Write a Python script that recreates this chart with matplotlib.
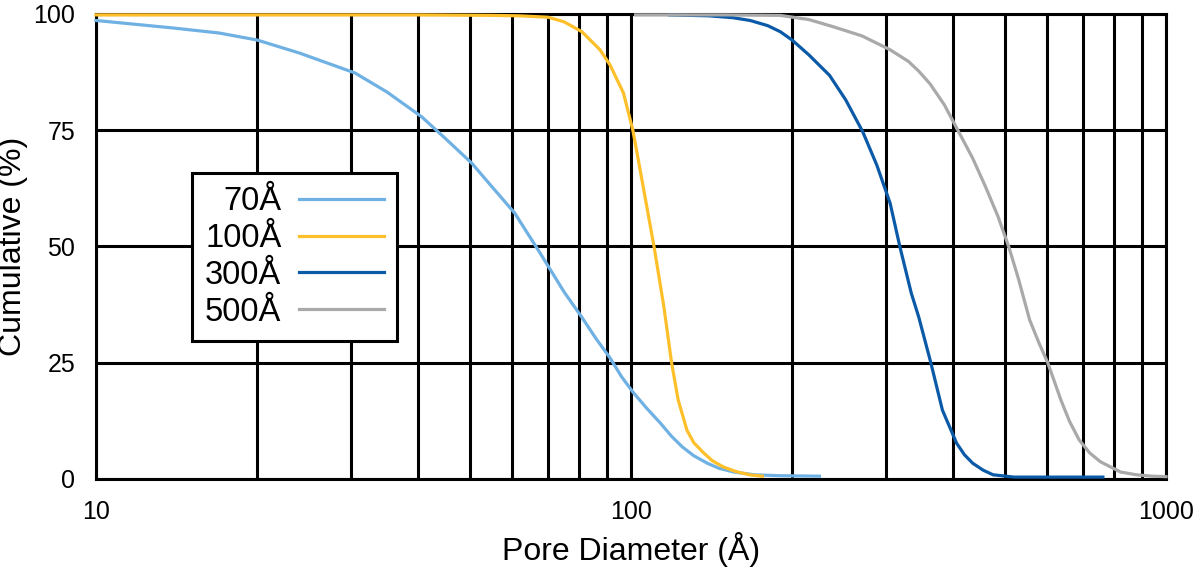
#!/usr/bin/python3
# Cumulative pore size distribution for four pore sizes
import matplotlib
matplotlib.use("Agg")
import matplotlib.pyplot as plt
from matplotlib.ticker import FixedLocator, NullFormatter

plt.rcParams['font.family'] = ['Liberation Sans', 'DejaVu Sans']

# values
labels = ["70Å", "100Å", "300Å", "500Å"]
colors = ["#70b1e4", "#fdc02a", "#0b5aa8", "#a9a9a9"]

x_70 = [10, 13.9, 17, 20, 24, 30.5, 35, 40.6, 45, 50.4, 55, 60.6, 67.6, 75, 80.9, 86, 91.4,
        96, 100.8, 107, 113.5, 119, 124.7, 131, 138.8, 146, 155.5, 170, 190, 225]
y_70 = [98.6, 97, 95.9, 94.4, 91.6, 87.3, 83.2, 77.9, 73.2, 67.9, 62.8, 57.2, 48.6, 40.2, 34.8,
        30.2, 26, 22, 18.7, 15.2, 12, 9.2, 6.9, 5, 3.4, 2.3, 1.5, 0.9, 0.7, 0.6]

x_100 = [10, 40, 55, 62, 70, 75, 80.9, 87.5, 91.4, 96.8, 100.8, 105.4, 110.4, 115.2, 119,
         122.5, 127.2, 131, 136.7, 142, 148.7, 157, 166.6, 176]
y_100 = [99.8, 99.8, 99.7, 99.6, 99.3, 98.3, 96.2, 92.3, 89, 83, 75, 62.8, 50, 37, 25.2,
         17, 10.5, 7.8, 5.6, 3.9, 2.6, 1.6, 0.9, 0.6]

x_300 = [118, 140, 155, 167, 180, 190, 200, 215, 235, 252, 271, 288, 305, 318, 334, 345, 363,
         382, 406, 420, 435, 455, 475, 520, 600, 762]
y_300 = [99.8, 99.6, 99.2, 98.6, 97.5, 96.2, 94.4, 91.2, 86.8, 81.5, 74.7, 67.5, 59.3, 50, 40,
         34.8, 25.2, 14.8, 7.7, 5.2, 3.4, 1.9, 0.9, 0.4, 0.4, 0.4]

x_500 = [102, 150, 190, 215, 238, 270, 305, 330, 345, 362, 385, 406, 435, 460, 485, 508, 530,
         556, 580, 601, 636, 660, 688, 720, 754, 822, 880, 941, 1000]
y_500 = [99.8, 99.8, 99.7, 98.8, 97.3, 95.3, 92.3, 89.8, 87.7, 85, 80.5, 75.5, 69, 62.8, 56.5,
         50, 43, 34.2, 29, 25, 17, 12.4, 8.4, 5.6, 3.7, 1.5, 0.9, 0.6, 0.5]

x_major = [10, 100, 1000]
x_minor = [20, 30, 40, 50, 60, 70, 80, 90, 200, 300, 400, 500, 600, 700, 800, 900]
y_ticks = [0, 25, 50, 75, 100]


def main():
    fig = plt.figure(figsize=(12, 5.75), dpi=100)
    ax = fig.add_axes([0.08, 0.167, 0.8917, 0.8087])

    series = [(x_70, y_70), (x_100, y_100), (x_300, y_300), (x_500, y_500)]
    for (xs, ys), lab, col in zip(series, labels, colors):
        ax.plot(xs, ys, color=col, lw=2.3, label=lab, zorder=3, clip_on=False,
                solid_joinstyle="round")

    ax.set_xscale("log")
    ax.set_xlim(10, 1000)
    ax.set_ylim(0, 100)
    ax.xaxis.set_major_locator(FixedLocator(x_major))
    ax.xaxis.set_minor_locator(FixedLocator(x_minor))
    ax.xaxis.set_minor_formatter(NullFormatter())
    ax.set_xticklabels([str(v) for v in x_major])
    ax.set_yticks(y_ticks)

    ax.grid(True, which="both", color="black", lw=2.2, zorder=1)
    ax.set_axisbelow(True)
    for sp in ax.spines.values():
        sp.set_linewidth(2.2)
        sp.set_color("black")

    ax.tick_params(axis="x", which="both", length=0, labelsize=18, pad=15)
    ax.tick_params(axis="y", which="both", length=0, labelsize=18, pad=15)

    ax.set_xlabel("Pore Diameter (Å)", fontsize=23, labelpad=6)
    ax.set_ylabel("Cumulative (%)", fontsize=23, labelpad=4)

    leg = ax.legend(loc="upper left", bbox_to_anchor=(0.0897, 0.658),
                    borderaxespad=0, markerfirst=False, fontsize=23.5,
                    handlelength=2.6, handletextpad=0.55, labelspacing=0.18,
                    borderpad=0.4, fancybox=False, framealpha=1)
    leg.get_frame().set_edgecolor("black")
    leg.get_frame().set_linewidth(2.2)
    for line in leg.get_lines():
        line.set_linewidth(2.3)

    fig.savefig("out.png", dpi=100)


if __name__ == "__main__":
    main()
